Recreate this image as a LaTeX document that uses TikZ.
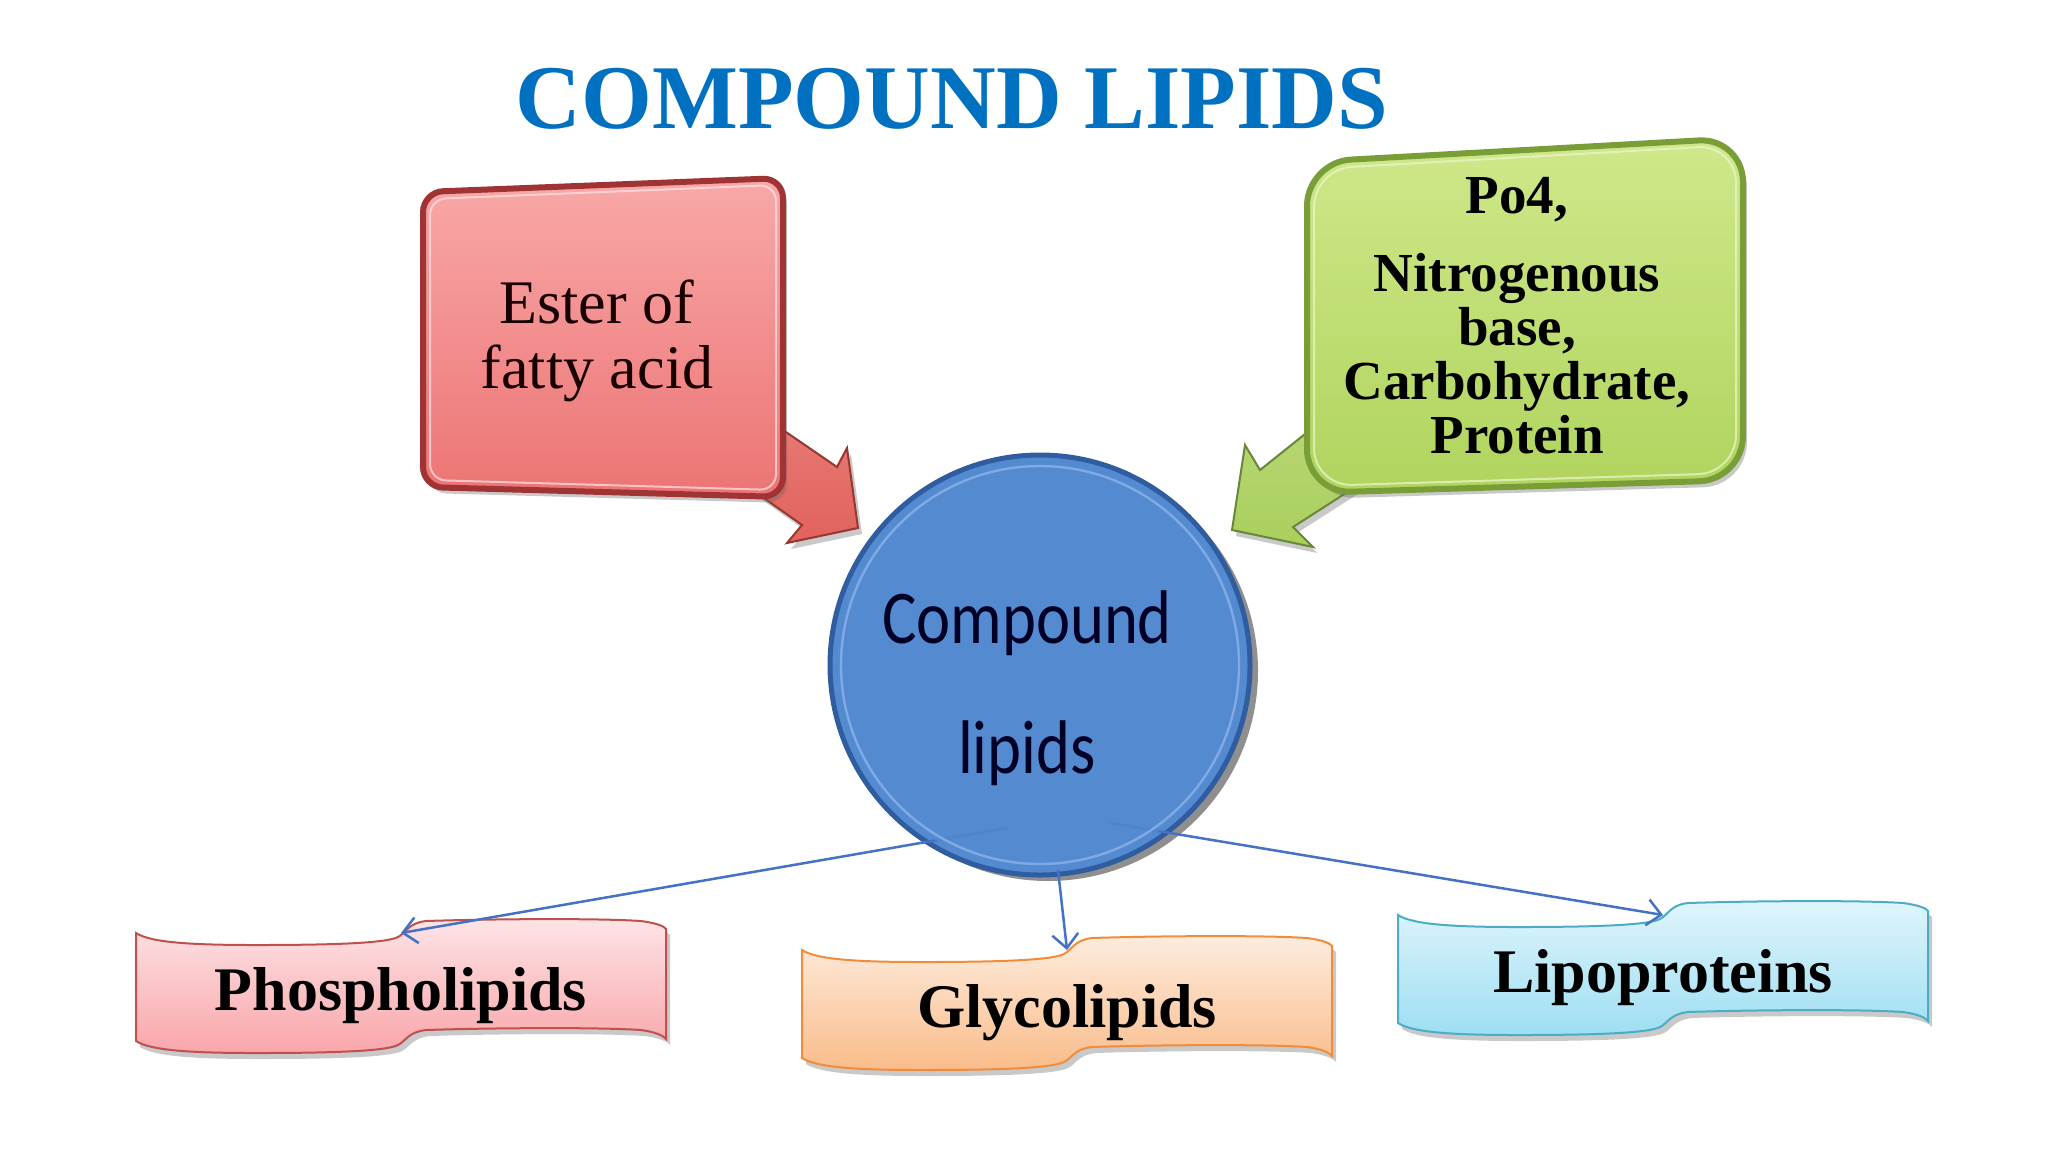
\documentclass[tikz,border=0pt]{standalone}
\usepackage{fontspec}
\setmainfont{Liberation Serif}
\newfontfamily\circfont[FakeStretch=0.85]{Carlito}
\usetikzlibrary{arrows.meta,shadows}
\definecolor{titleblue}{RGB}{0,112,192}
\definecolor{redtop}{RGB}{249,168,168}
\definecolor{redbot}{RGB}{236,116,116}
\definecolor{redrim}{RGB}{160,52,52}
\definecolor{redarrow}{RGB}{226,98,92}
\definecolor{redarrowrim}{RGB}{150,55,50}
\definecolor{greentop}{RGB}{207,232,138}
\definecolor{greenbot}{RGB}{176,212,94}
\definecolor{greenrim}{RGB}{122,158,55}
\definecolor{greenarrow}{RGB}{170,207,92}
\definecolor{greenarrowrim}{RGB}{105,135,60}
\definecolor{circblue}{RGB}{84,139,208}
\definecolor{circrim}{RGB}{48,92,160}
\definecolor{circlight}{RGB}{128,170,228}
\definecolor{linkblue}{RGB}{68,114,196}
\definecolor{phostop}{RGB}{253,228,230}
\definecolor{phosbot}{RGB}{249,166,170}
\definecolor{phosrim}{RGB}{192,80,77}
\definecolor{glyctop}{RGB}{253,236,222}
\definecolor{glycbot}{RGB}{250,188,138}
\definecolor{glycrim}{RGB}{240,140,60}
\definecolor{lipotop}{RGB}{224,245,252}
\definecolor{lipobot}{RGB}{158,222,243}
\definecolor{liporim}{RGB}{75,172,198}
\tikzset{
  titletext/.style={font=\fontsize{45.5pt}{52pt}\selectfont\bfseries, text=titleblue, inner sep=0pt},
  redtext/.style={font=\fontsize{31pt}{32.5pt}\selectfont, align=center, inner sep=0pt, text=black!90!red},
  greentext/.style={font=\fontsize{27.5pt}{27pt}\selectfont\bfseries, align=center, inner sep=0pt},
  circtext/.style={font=\circfont\fontsize{38pt}{65pt}\selectfont, align=center, inner sep=0pt, text=black!85!blue},
  bannertext/.style={font=\fontsize{31pt}{36pt}\selectfont\bfseries, inner sep=0pt},
  conn/.style={draw=linkblue, line width=1.25pt, -{Straight Barb[length=7pt,width=13pt]}},
  softshadow/.style={drop shadow={shadow xshift=2pt, shadow yshift=-3pt, opacity=0.35, fill=black!60}},
  pics/banner/.style n args={4}{code={
    \path[softshadow, top color=#1, bottom color=#2, draw=#3, line width=1pt]
      (0,0) .. controls (15,10) and (60,12) .. (120,12)
      .. controls (200,12) and (250,10) .. (262,4)
      .. controls (270,0) and (272,-10) .. (290,-12)
      .. controls (350,-14) and (460,-15) .. (505,-12)
      .. controls (520,-10) and (528,-7) .. (530,-4)
      -- (530,106)
      .. controls (528,103) and (520,99) .. (505,97)
      .. controls (460,94) and (350,95) .. (290,97)
      .. controls (272,99) and (270,108) .. (262,112)
      .. controls (250,118) and (200,120) .. (120,120)
      .. controls (60,120) and (15,118) .. (0,108) -- cycle;
    \coordinate (-top) at (265,0);
    \node[bannertext, anchor=base] (-txt) at (265,77) {#4};
  }}
}
\begin{document}
\begin{tikzpicture}[x=0.5pt,y=-0.5pt]
\useasboundingbox (0,0) rectangle (2048,1152);
\fill[white] (0,0) rectangle (2048,1152);

% title
\node[titletext, anchor=base] (title) at (952,128) {COMPOUND LIPIDS};

% block arrows
\path[draw=redarrowrim, line width=1pt, top color=redarrow!85!white, bottom color=redarrow, softshadow]
  (767,419) -- (837,467) -- (847,448) -- (858,528) -- (787,543) -- (802,525) -- (744,484) -- cycle;
\path[draw=greenarrowrim, line width=1pt, top color=greenarrow!85!white, bottom color=greenarrow, softshadow]
  (1320,422) -- (1260,470) -- (1245,445) -- (1232,530) -- (1313,547) -- (1293,527) -- (1360,484) -- cycle;

% red box
\path[draw=redrim, line width=3pt, top color=redtop, bottom color=redbot, rounded corners=10pt, softshadow]
  (423,192) -- (783,178) -- (783,497) -- (423,487) -- cycle;
\draw[white!70!redtop, line width=1pt, rounded corners=8pt, opacity=0.7]
  (430,199) -- (776,185) -- (776,490) -- (430,480) -- cycle;
\node[redtext] (ester) at (597,341) {Ester of\\fatty acid};

% green box
\path[draw=greenrim, line width=3pt, top color=greentop, bottom color=greenbot, rounded corners=22pt, softshadow]
  (1307,162) -- (1743,138) -- (1743,480) -- (1307,493) -- cycle;
\draw[white!60!greentop, line width=1pt, rounded corners=19pt, opacity=0.7]
  (1314,169) -- (1736,145) -- (1736,473) -- (1314,486) -- cycle;
\node[greentext] (parts) at (1517,316) {Po4,\\[12pt]Nitrogenous\\base,\\Carbohydrate,\\Protein};

% circle
\node[circle, minimum size=210pt, inner sep=0pt, fill=circblue, draw=circrim, line width=2.5pt,
      drop shadow={shadow xshift=4pt, shadow yshift=-3pt, opacity=0.55, fill=black!80}] (cl) at (1040,665) {};

% banners
\pic (phos) at (136,933) {banner={phostop}{phosbot}{phosrim}{Phospholipids}};
\pic (glyc) at (802,950) {banner={glyctop}{glycbot}{glycrim}{Glycolipids}};
\pic (lipo) at (1398,915) {banner={lipotop}{lipobot}{liporim}{Lipoproteins}};

% connectors
\coordinate (s1) at (1007,828);
\coordinate (s2) at (1058,870);
\coordinate (s3) at (1110,823);
\draw[conn] (s1) -- (phos-top);
\draw[conn] (s2) -- (glyc-top);
\draw[conn] (s3) -- (lipo-top);

% fade connectors inside circle
\fill[circblue, opacity=0.72] (cl.center) circle[radius=204];
\draw[circlight, line width=1.2pt] (cl.center) circle[radius=199];
\node[circtext] (cltext) at (1027,688) {Compound\\lipids};
\end{tikzpicture}
\end{document}
